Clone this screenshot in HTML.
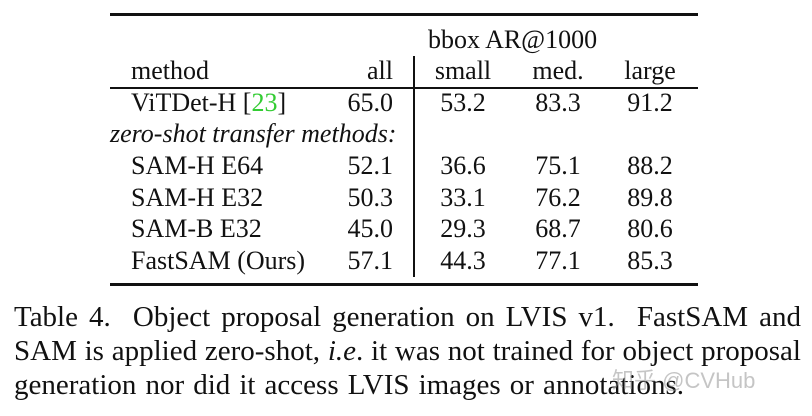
<!DOCTYPE html>
<html><head><meta charset="utf-8"><style>
body{margin:0;width:812px;height:416px;background:#fff;position:relative;overflow:hidden;font-family:"Liberation Serif","Noto Serif CJK SC",serif;color:#111;}
.t{position:absolute;font-size:26px;white-space:nowrap;line-height:1;}
.r{text-align:right}
.c{text-align:center;width:80px;margin-left:-40px}
.rule{position:absolute;background:#111;}
.cap{position:absolute;left:14px;width:787px;font-size:29px;line-height:1;text-align:justify;text-align-last:justify;white-space:nowrap;}
</style></head><body>
<div class="rule" style="left:110px;top:13px;width:588px;height:3px"></div>
<div class="rule" style="left:110px;top:87px;width:588px;height:1.5px"></div>
<div class="rule" style="left:110px;top:283px;width:588px;height:3px"></div>
<div class="rule" style="left:413px;top:56px;width:1.5px;height:221px"></div>
<div id="tbl"></div>
<div class="cap" style="top:303px">Table 4.&nbsp; Object proposal generation on LVIS v1.&nbsp; FastSAM and</div>
<div class="cap" style="top:337px">SAM is applied zero-shot, <i>i.e</i>. it was not trained for object proposal</div>
<div class="cap" style="top:371px;width:670px">generation nor did it access LVIS images or annotations.</div>
<div class="t" style="left:612px;top:370px;font-family:'Liberation Sans','Noto Sans CJK SC',sans-serif;font-size:22px;color:rgba(150,150,150,0.55)">知乎 @CVHub</div>
<script>
const methods=["ViTDet-H [23]","SAM-H E64","SAM-H E32","SAM-B E32","FastSAM (Ours)"];
const allVals=["65.0","52.1","50.3","45.0","57.1"];
const smallVals=["53.2","36.6","33.1","29.3","44.3"];
const medVals=["83.3","75.1","76.2","68.7","77.1"];
const largeVals=["91.2","88.2","89.8","80.6","85.3"];
const tbl=document.getElementById('tbl');
function add(txt,cls,left,base,name,html){
  const d=document.createElement('div');
  d.className='t '+cls;
  if(html)d.innerHTML=txt;else d.textContent=txt;
  d.style.top=(base-20)+'px';
  if(cls==='r'){d.style.left=(left-120)+'px';d.style.width='120px';}
  else d.style.left=left+'px';
  
  
  tbl.appendChild(d);
}
add('bbox AR@1000','',428,47,'group-header');
add('method','',131,78,'header-method');
add('all','r',393,78,'header-all');
add('small','c',463,78,'header-small');
add('med.','c',558,78,'header-med');
add('large','c',650,78,'header-large');
add('<i>zero-shot transfer methods:</i>','',110,141,'section-zero-shot',true);
const bases=[110,173,204.5,236,268];
methods.forEach((m,i)=>{
  const b=bases[i];
  add(i===0?'ViTDet-H [<span style="color:#3c3">23</span>]':m,'',131,b,'method-cell',i===0);
  add(allVals[i],'r',393,b,'all-cell');
  add(smallVals[i],'c',463,b,'small-cell');
  add(medVals[i],'c',558,b,'med-cell');
  add(largeVals[i],'c',650,b,'large-cell');
});
</script>
</body></html>
